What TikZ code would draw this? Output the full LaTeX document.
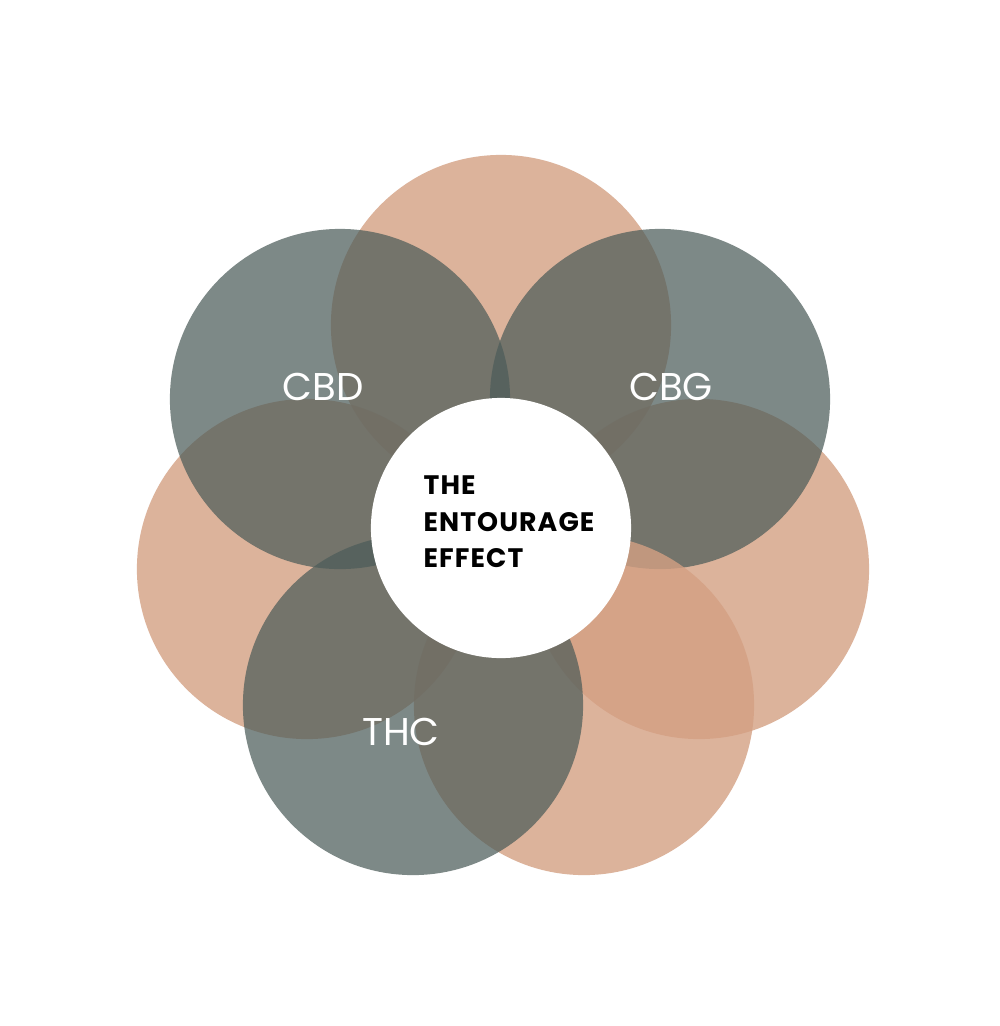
\documentclass[tikz,border=0pt]{standalone}
\usepackage{fontspec}
\setmainfont{Poppins}
\definecolor{tanc}{RGB}{212,160,131}
\definecolor{grayc}{RGB}{76,92,89}
\tikzset{
  petal/.style={circle, minimum size=3.4cm, inner sep=0pt, draw=none},
  tanpetal/.style={petal, fill=tanc, fill opacity=0.8},
  graypetal/.style={petal, fill=grayc, fill opacity=0.72},
  lbl/.style={text=white, font=\fontsize{11pt}{13pt}\selectfont, inner sep=0pt},
  ctext/.style={text=black, font=\fontsize{7.6pt}{10.4pt}\selectfont\bfseries\addfontfeatures{LetterSpace=4}, align=left, inner sep=0pt, anchor=west}
}
\begin{document}
\begin{tikzpicture}[x=0.01cm,y=-0.01cm]
\fill[white] (0,0) rectangle (1000,1026);
\useasboundingbox (0,0) rectangle (1000,1026);
\node[tanpetal] (ptop) at (501,325) {};
\node[tanpetal] (pright) at (699,569) {};
\node[tanpetal] (pleft) at (307,569) {};
\node[graypetal] (pcbd) at (340,399) {};
\node[graypetal] (pcbg) at (660,399) {};
\node[tanpetal] (pbr) at (584,705) {};
\node[graypetal] (pthc) at (413,705) {};
\node[circle, fill=white, minimum size=2.6cm, inner sep=0pt] (core) at (501,528) {};
\node[lbl] (lcbd) at (323,387) {CBD};
\node[lbl] (lcbg) at (671,387) {CBG};
\node[lbl] (lthc) at (401,732) {THC};
\node[ctext] (ct) at (423,522) {THE\\ENTOURAGE\\EFFECT};
\end{tikzpicture}
\end{document}
